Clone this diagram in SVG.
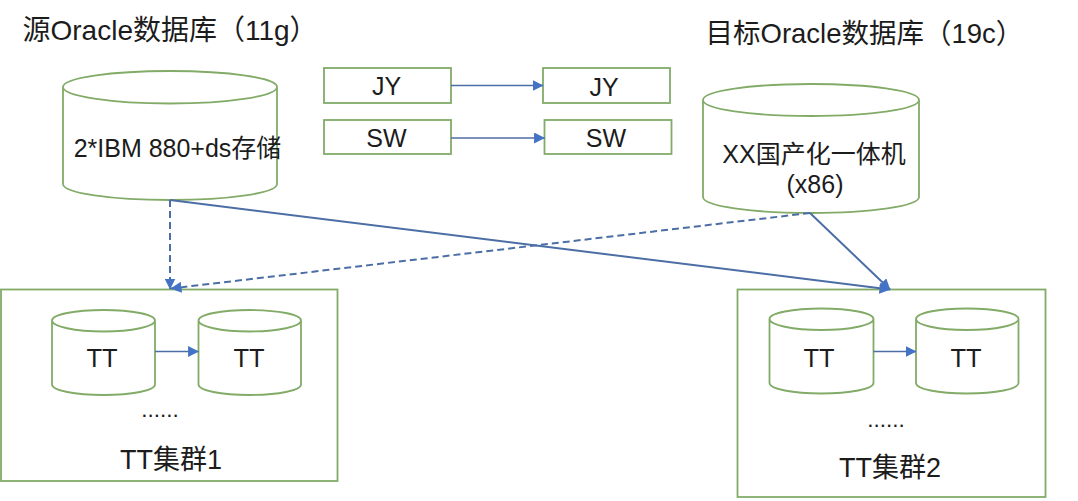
<svg xmlns="http://www.w3.org/2000/svg" width="1078" height="501" viewBox="0 0 1078 501">
<style>
text{font-family:"Liberation Sans","Noto Sans CJK SC",sans-serif;fill:#1c1c1c;text-anchor:middle}
.shape{fill:#fff;stroke:#82ab68;stroke-width:1.8}
.title{font-size:28px;text-anchor:start}
.title-b{font-size:27.500px;text-anchor:start}
.label{font-size:25px}
.dots{font-size:22.500px}
.cluster{font-size:27px}
.tt{font-size:25.500px}
.link{fill:none;stroke:#4c6ea6;stroke-width:2}
.thin{stroke-width:1.7}
.dash{stroke-dasharray:7 4}
</style>
<defs>
<marker id="arrow" viewBox="0 0 10 10" refX="9.5" refY="5" markerUnits="userSpaceOnUse" markerWidth="11" markerHeight="11" orient="auto"><path d="M0 0L10 5L0 10z" fill="#4472c4"/></marker>
</defs>
<rect width="1078" height="501" fill="#fff"/>
<g id="title-source"><text class="title" x="22.500" y="40">源Oracle数据库（11g）</text></g>
<g id="title-target"><text class="title-b" x="705.500" y="43">目标Oracle数据库（19c）</text></g>
<g id="source-db">
<path class="shape" d="M63 87V184C63 193 111 200 170 200S277 193 277 184V87C277 78 229 71 170 71S63 78 63 87C63 96 111 103.500 170 103.500S277 96 277 87"/>
<text class="label" x="177.500" y="157">2*IBM 880+ds存储</text>
</g>
<g id="target-db">
<path class="shape" d="M703 100V197C703 206 751 213 811 213S919 206 919 197V100C919 91 871 84 811 84S703 91 703 100C703 109 751 116 811 116S919 109 919 100"/>
<text class="label" x="814" y="163">XX国产化一体机</text>
<text class="label" x="815" y="193">(x86)</text>
</g>
<g id="jy-source"><rect class="shape" x="324" y="68" width="127" height="35"/><text class="label" x="386.500" y="95">JY</text></g>
<g id="sw-source"><rect class="shape" x="324" y="120" width="127" height="34"/><text class="label" x="386.500" y="147">SW</text></g>
<g id="jy-target"><rect class="shape" x="543" y="68" width="127" height="35"/><text class="label" x="604" y="96">JY</text></g>
<g id="sw-target"><rect class="shape" x="544.500" y="120" width="127" height="34"/><text class="label" x="606" y="147">SW</text></g>
<g id="cluster-1">
<rect class="shape" x="1" y="289.500" width="336.500" height="191.500"/>
<text class="cluster" x="171" y="469">TT集群1</text>
<text class="dots" x="160" y="417">......</text>
</g>
<g id="cluster-2">
<rect class="shape" x="737.500" y="289.500" width="308" height="207.500"/>
<text class="cluster" x="890" y="477">TT集群2</text>
<text class="dots" x="886" y="427">......</text>
</g>
<g id="tt-1a">
<path class="shape" d="M52 320.500V384.500C52 390.500 75 395 103.500 395S155 390.500 155 384.500V320.500C155 314.500 132 310 103.500 310S52 314.500 52 320.500C52 326.500 75 331.500 103.500 331.500S155 326.500 155 320.500"/>
<text class="tt" x="102" y="367">TT</text>
</g>
<g id="tt-1b">
<path class="shape" d="M198.500 320.500V384.500C198.500 390.500 221 395 249.500 395S301 390.500 301 384.500V320.500C301 314.500 278 310 249.500 310S198.500 314.500 198.500 320.500C198.500 326.500 221 331.500 249.500 331.500S301 326.500 301 320.500"/>
<text class="tt" x="249" y="367">TT</text>
</g>
<g id="tt-2a">
<path class="shape" d="M769.500 319V383C769.500 389 793 393.500 821.500 393.500S873.500 389 873.500 383V319C873.500 313 850 308.500 821.500 308.500S769.500 313 769.500 319C769.500 325 793 330 821.500 330S873.500 325 873.500 319"/>
<text class="tt" x="819" y="367">TT</text>
</g>
<g id="tt-2b">
<path class="shape" d="M916 319V383C916 389 938 393.500 967 393.500S1018.500 389 1018.500 383V319C1018.500 313 996 308.500 967 308.500S916 313 916 319C916 325 938 330 967 330S1018.500 325 1018.500 319"/>
<text class="tt" x="966" y="367">TT</text>
</g>
<g id="connectors">
<line class="link thin" x1="451" y1="85.500" x2="543" y2="85.500" marker-end="url(#arrow)"/>
<line class="link thin" x1="451" y1="138" x2="544.500" y2="138" marker-end="url(#arrow)"/>
<line class="link thin" x1="155" y1="351.500" x2="198.500" y2="351.500" marker-end="url(#arrow)"/>
<line class="link thin" x1="873.500" y1="351.500" x2="916" y2="351.500" marker-end="url(#arrow)"/>
<line class="link dash" x1="170" y1="200" x2="170" y2="289" marker-end="url(#arrow)"/>
<line class="link dash" x1="810" y1="213" x2="171" y2="288.500" marker-end="url(#arrow)"/>
<line class="link" x1="170" y1="200" x2="890" y2="289.500" marker-end="url(#arrow)"/>
<line class="link" x1="810" y1="213" x2="890" y2="289.500" marker-end="url(#arrow)"/>
</g>
</svg>
